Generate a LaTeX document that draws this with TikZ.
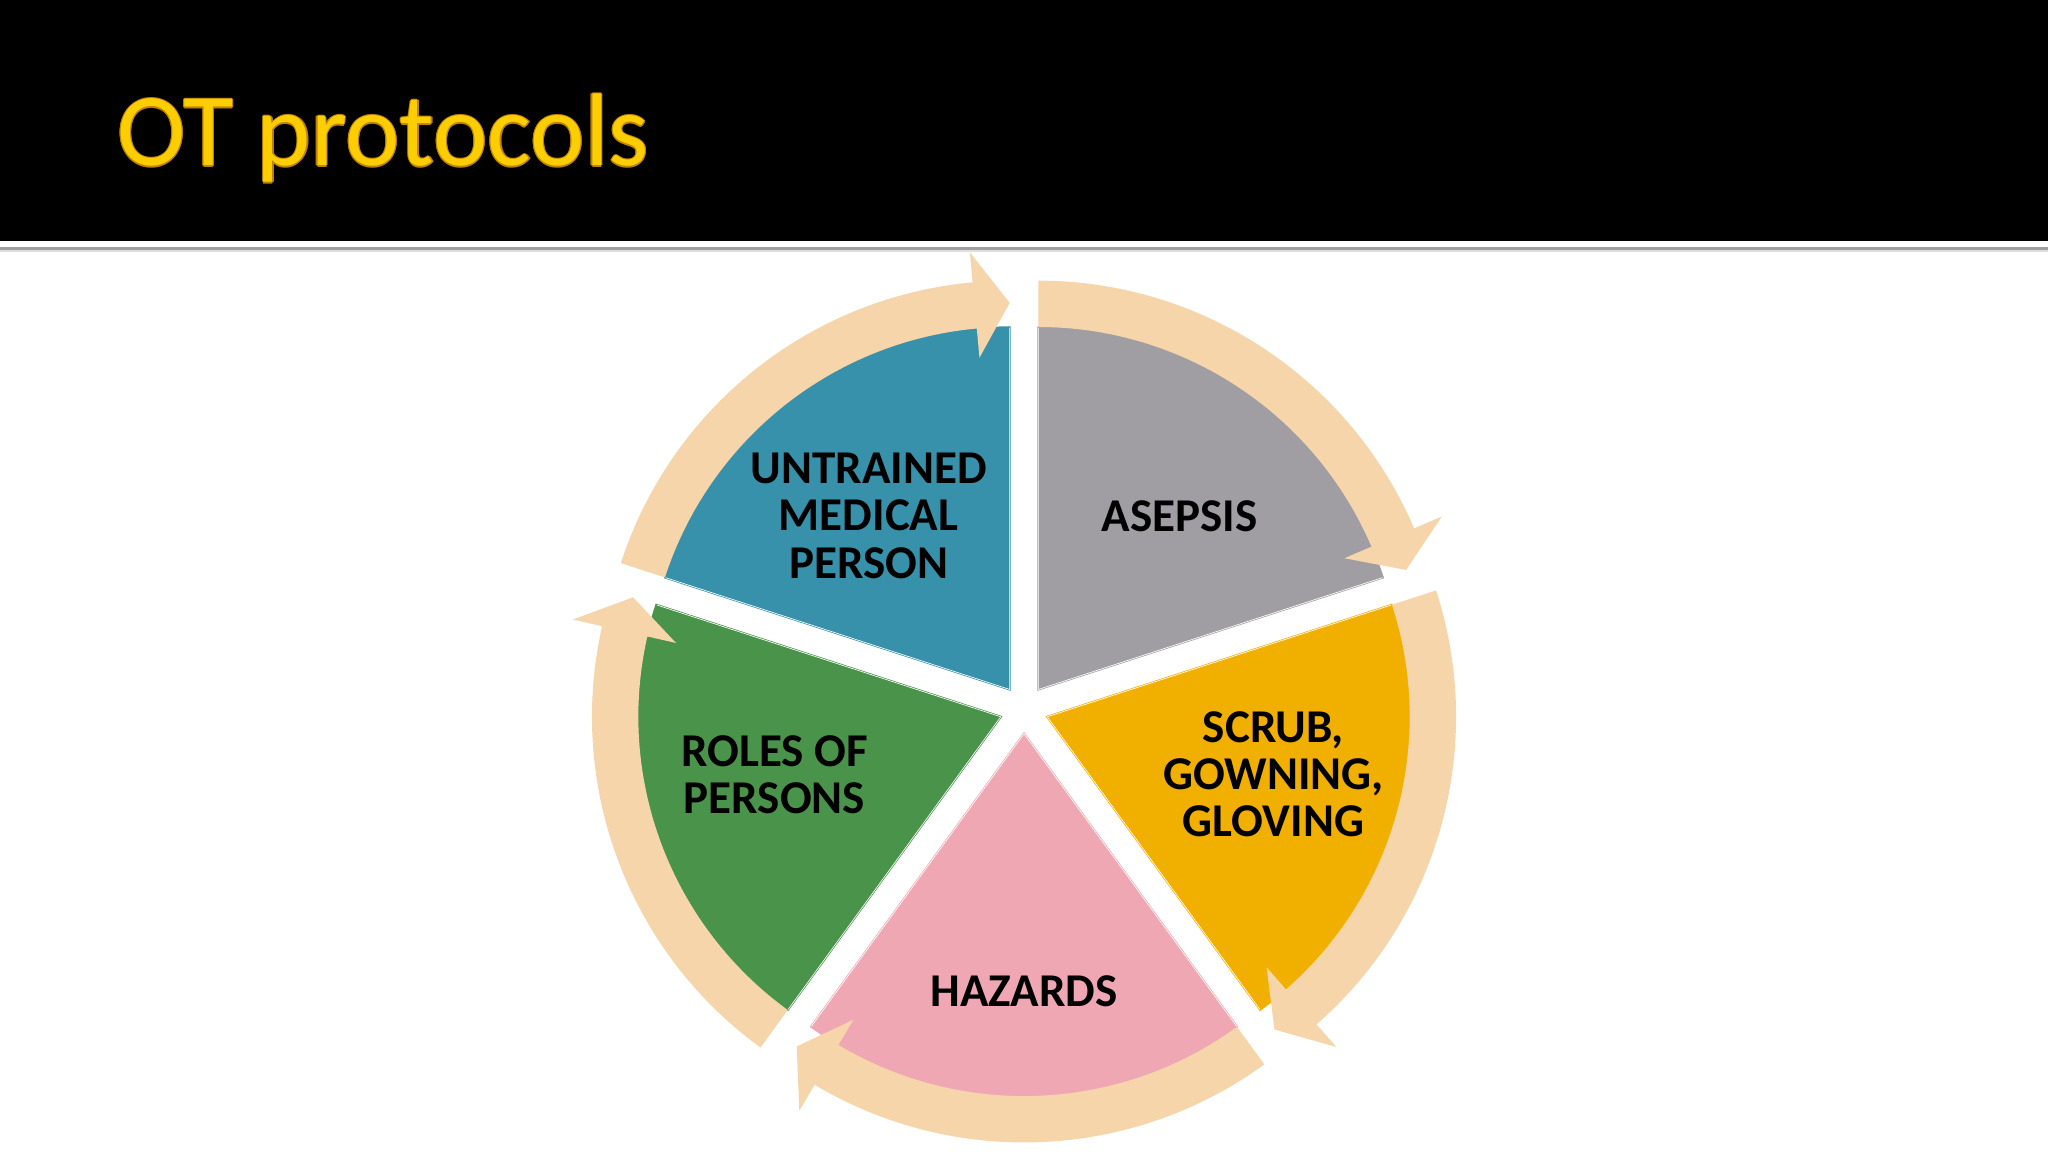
\documentclass[tikz,border=0pt]{standalone}
\usepackage{fontspec}
\setmainfont{Carlito}
\usetikzlibrary{calc}
\definecolor{tealw}{RGB}{56,145,170}
\definecolor{grayw}{RGB}{160,158,163}
\definecolor{yelw}{RGB}{241,176,0}
\definecolor{pinkw}{RGB}{239,167,179}
\definecolor{greenw}{RGB}{74,147,74}
\definecolor{peach}{RGB}{246,213,171}
\definecolor{titley}{RGB}{252,206,0}
\definecolor{titleo}{RGB}{190,130,0}
\tikzset{
  lbl/.style={font=\bfseries\fontsize{36}{36}\selectfont, align=center, inner sep=0pt, text=black},
  ttl/.style={anchor=base west, inner sep=0pt, font=\fontsize{79}{80}\selectfont},
}
\begin{document}
\begin{tikzpicture}[x=1pt,y=1pt]
\useasboundingbox (0,0) rectangle (1568,882);
\fill[white] (0,0) rectangle (1568,882);
% header
\fill[black] (0,697.5) rectangle (1568,882);
\fill[gray!75] (0,690.8) rectangle (1568,693);
\fill[gray!25] (0,689.3) rectangle (1568,690.8);
% title with a thin darker rim
\foreach \ang [count=\k] in {0,45,...,315}{
  \node[ttl, text=titleo] (tr\k) at ($(90,755)+(\ang:0.9)$) {OT protocols};
}
\node[ttl, text=titley] (title) at (90,755) {OT protocols};

\coordinate (C) at (784,339);
% wedges
\foreach \ba/\col in {54/grayw, -18/yelw, -90/pinkw, 198/greenw, 126/tealw}{
  \begin{scope}[shift={($(C)+(\ba:18.7)$)}]
    \fill[\col] (0,0) -- (\ba+36:278) arc[start angle=\ba+36, end angle=\ba-36, radius=278] -- cycle;
    \draw[\col, line width=1.6pt] (\ba-36:278) -- (0,0) -- (\ba+36:278);
    \draw[white, line width=0.5pt] (\ba-36:277) -- (0,0) -- (\ba+36:277);
  \end{scope}
}
% arrows
\foreach \ba in {54, -18, -90, 198, 126}{
  \begin{scope}[shift={($(C)+(\ba:18.7)$)}]
    \fill[peach] (\ba+36:277.5) arc[start angle=\ba+36, end angle=\ba-30.8, radius=277.5]
      -- (\ba-30.8:255) -- (\ba-36:296) -- (\ba-30.8:336) -- (\ba-30.8:313)
      arc[start angle=\ba-30.8, end angle=\ba+36, radius=313] -- cycle;
  \end{scope}
}
% labels
\node[lbl] (unt) at (665,487) {UNTRAINED\\MEDICAL\\PERSON};
\node[lbl] (ase) at (903,487) {ASEPSIS};
\node[lbl] (scr) at (975,289) {SCRUB,\\GOWNING,\\GLOVING};
\node[lbl] (haz) at (784,123) {HAZARDS};
\node[lbl] (rol) at (593,289) {ROLES OF\\PERSONS};
\end{tikzpicture}
\end{document}
